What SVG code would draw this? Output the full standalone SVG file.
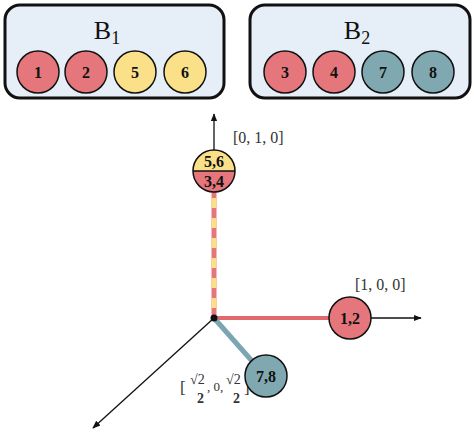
<svg xmlns="http://www.w3.org/2000/svg" width="474" height="434" viewBox="0 0 474 434">
<defs>
<style>
.box{fill:#e6eef8;stroke:#111;stroke-width:3}
.c{stroke:#111;stroke-width:1.5}
.red{fill:#e5767b}
.yel{fill:#fbe08a}
.teal{fill:#7fa8b0}
.n{font-family:"Liberation Serif",serif;font-weight:bold;font-size:16px;text-anchor:middle;fill:#111}
.lbl{font-family:"Liberation Serif",serif;font-size:26px;fill:#111;text-anchor:middle}
.vec{font-family:"Liberation Serif",serif;font-size:16px;fill:#333}
.ax{stroke:#111;stroke-width:1.3;fill:none}
</style>
<marker id="ah" viewBox="0 0 10 10" refX="9" refY="5" markerWidth="8" markerHeight="8" markerUnits="userSpaceOnUse" orient="auto">
<path d="M0,1 L10,5 L0,9 Z" fill="#111"/>
</marker>
<clipPath id="topHalf"><rect x="190" y="148" width="46" height="23"/></clipPath>
<clipPath id="botHalf"><rect x="190" y="171" width="46" height="23"/></clipPath>
</defs>

<g id="B1">
<rect class="box" x="5" y="5" width="219" height="93" rx="15"/>
<text class="lbl" x="107" y="39">B<tspan font-size="18" dy="5">1</tspan></text>
<g id="b1-1"><circle class="c red" cx="38" cy="72" r="21"/><text class="n" x="38" y="78">1</text></g>
<g id="b1-2"><circle class="c red" cx="86" cy="72" r="21"/><text class="n" x="86" y="78">2</text></g>
<g id="b1-5"><circle class="c yel" cx="135" cy="72" r="21"/><text class="n" x="135" y="78">5</text></g>
<g id="b1-6"><circle class="c yel" cx="185" cy="72" r="21"/><text class="n" x="185" y="78">6</text></g>
</g>

<g id="B2">
<rect class="box" x="250" y="5" width="220" height="93" rx="15"/>
<text class="lbl" x="357" y="39">B<tspan font-size="18" dy="5">2</tspan></text>
<g id="b2-3"><circle class="c red" cx="285" cy="72" r="21"/><text class="n" x="285" y="78">3</text></g>
<g id="b2-4"><circle class="c red" cx="334" cy="72" r="21"/><text class="n" x="334" y="78">4</text></g>
<g id="b2-7"><circle class="c teal" cx="383" cy="72" r="21"/><text class="n" x="383" y="78">7</text></g>
<g id="b2-8"><circle class="c teal" cx="433" cy="72" r="21"/><text class="n" x="433" y="78">8</text></g>
</g>

<g id="connectors">
<line class="ax" x1="214" y1="150" x2="214" y2="114" marker-end="url(#ah)"/>
<line x1="214" y1="192" x2="214" y2="318" stroke="#e5767b" stroke-width="5"/>
<line x1="214" y1="198" x2="214" y2="318" stroke="#fbe08a" stroke-width="5" stroke-dasharray="10 10"/>
<line x1="214" y1="318" x2="330" y2="318" stroke="#e06a6e" stroke-width="4"/>
<line class="ax" x1="371" y1="318" x2="421" y2="318" marker-end="url(#ah)"/>
<line x1="214" y1="318" x2="252" y2="361" stroke="#7ba5b0" stroke-width="5"/>
<line class="ax" x1="214" y1="318" x2="93" y2="428" marker-end="url(#ah)"/>
<circle cx="214" cy="318" r="3.5" fill="#111"/>
</g>

<text class="vec" x="233" y="143">[0, 1, 0]</text>
<text class="vec" x="355" y="290">[1, 0, 0]</text>
<g id="vec-d" class="vec">
<text x="180" y="393" font-size="17">[</text>
<text x="190" y="384" font-size="14">√2</text>
<text x="197" y="403" font-size="14" font-weight="bold">2</text>
<text x="207" y="391" font-size="13">, 0,</text>
<text x="226" y="384" font-size="14">√2</text>
<text x="233" y="403" font-size="14" font-weight="bold">2</text>
<text x="244" y="393" font-size="17">]</text>
</g>

<g id="n-y">
<circle class="yel" cx="214" cy="171" r="21" clip-path="url(#topHalf)"/>
<circle class="red" cx="214" cy="171" r="21" clip-path="url(#botHalf)"/>
<line x1="193" y1="171" x2="235" y2="171" stroke="#111" stroke-width="1.3"/>
<circle cx="214" cy="171" r="21" fill="none" stroke="#111" stroke-width="1.5"/>
<text class="n" x="214" y="167">5,6</text>
<text class="n" x="214" y="187">3,4</text>
</g>

<g id="n-x">
<circle class="c red" cx="350" cy="318" r="21"/>
<text class="n" x="350" y="324">1,2</text>
</g>

<g id="n-d">
<circle class="c teal" cx="266" cy="376" r="21"/>
<text class="n" x="266" y="382">7,8</text>
</g>
</svg>
